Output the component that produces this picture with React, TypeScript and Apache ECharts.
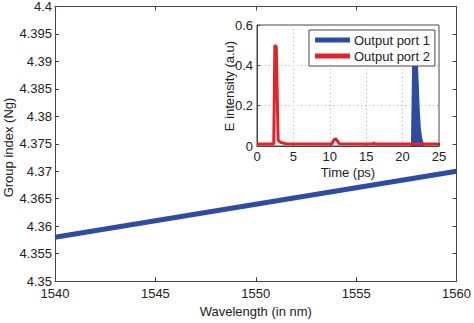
import React, { useEffect, useRef } from "react";
import * as echarts from "echarts";

const wavelength = [1540, 1560];
const groupIndex = [4.358, 4.37];

const port1Time = [21.35, 21.55, 21.7, 21.85, 22.0, 22.15, 22.3, 22.5, 22.8];
const port1Val = [0, 0.5, 0.52, 0.45, 0.32, 0.18, 0.09, 0.035, 0];

const port2Time = [0, 2.3, 2.45, 2.65, 2.9, 3.2, 4.0, 10.3, 10.55, 10.8, 11.05, 11.3, 15.9, 16.05, 16.2, 25];
const port2Val = [0.01, 0.01, 0.5, 0.49, 0.03, 0.018, 0.011, 0.01, 0.03, 0.036, 0.025, 0.011, 0.01, 0.015, 0.01, 0.01];

const mainYName = "Group index (Ng)";
const insetYName = "E intensity (a.u)";

const FONT = "Liberation Sans, Arial, Helvetica, sans-serif";
const TXT = "#222";
const AX = "#444";
const BLUE = "#2c4da0";
const RED = "#e42229";

export default function App() {
  const ref = useRef<HTMLDivElement>(null);
  useEffect(() => {
    if (!ref.current) return;
    const chart = echarts.init(ref.current, undefined, { renderer: "svg" });
    const mainLine = wavelength.map((w, i) => [w, groupIndex[i]]);
    const p1 = port1Time.map((t, i) => [t, port1Val[i]]);
    const p2 = port2Time.map((t, i) => [t, port2Val[i]]);
    const lbl = { color: TXT, fontSize: 13, fontFamily: FONT };
    const axLine = { show: true, lineStyle: { color: AX, width: 1 } };
    const plain = (v: number) => String(Math.round(v * 1000) / 1000);
    const vText = (text: string, x: number, y: number) => ({
      type: "text", x, y, rotation: Math.PI / 2, z: 30,
      style: { text, fill: TXT, fontSize: 13, fontFamily: FONT, align: "center", verticalAlign: "middle" },
    });
    chart.setOption({
      animation: false,
      backgroundColor: "#fff",
      textStyle: { fontFamily: FONT },
      grid: [
        { left: 55, top: 5, right: 15, bottom: 33, show: false },
        { left: 257, top: 25, right: 35, bottom: 177, show: true, backgroundColor: "#fff", borderColor: AX, borderWidth: 1, z: 5 },
      ],
      graphic: [vText(mainYName, 8, 147.5), vText(insetYName, 229, 86)],
      xAxis: [
        {
          gridIndex: 0, type: "value", min: 1540, max: 1560, interval: 5, position: "bottom",
          axisLine: axLine, axisTick: { show: true, inside: true, length: 4, lineStyle: { color: AX } },
          axisLabel: { ...lbl, margin: 6, formatter: plain }, splitLine: { show: false },
          name: "Wavelength (in nm)", nameLocation: "middle", nameGap: 21, nameTextStyle: lbl,
        },
        {
          gridIndex: 0, type: "value", min: 1540, max: 1560, interval: 5, position: "top",
          axisLine: axLine, axisTick: { show: true, inside: true, length: 4, lineStyle: { color: AX } },
          axisLabel: { show: false }, splitLine: { show: false },
        },
        {
          gridIndex: 1, type: "value", min: 0, max: 25, interval: 5,
          axisLine: axLine, axisTick: { show: true, inside: true, length: 3, lineStyle: { color: AX } },
          axisLabel: { ...lbl, margin: 4, formatter: plain },
          splitLine: { show: true, lineStyle: { color: "#b0b0b0", type: [1, 3], width: 1 } },
          name: "Time (ps)", nameLocation: "middle", nameGap: 20, nameTextStyle: lbl, z: 6,
        },
      ],
      yAxis: [
        {
          gridIndex: 0, type: "value", min: 4.35, max: 4.4, interval: 0.005, position: "left",
          axisLine: axLine, axisTick: { show: true, inside: true, length: 4, lineStyle: { color: AX } },
          axisLabel: { ...lbl, margin: 3, formatter: plain }, splitLine: { show: false },
        },
        {
          gridIndex: 0, type: "value", min: 4.35, max: 4.4, interval: 0.005, position: "right",
          axisLine: axLine, axisTick: { show: true, inside: true, length: 4, lineStyle: { color: AX } },
          axisLabel: { show: false }, splitLine: { show: false },
        },
        {
          gridIndex: 1, type: "value", min: 0, max: 0.6, interval: 0.2,
          axisLine: axLine, axisTick: { show: true, inside: true, length: 3, lineStyle: { color: AX } },
          axisLabel: { ...lbl, margin: 4, formatter: plain },
          splitLine: { show: true, lineStyle: { color: "#b0b0b0", type: [1, 3], width: 1 } },
          z: 6,
        },
      ],
      legend: {
        left: 309, top: 30, orient: "vertical",
        backgroundColor: "#fff", borderColor: AX, borderWidth: 1,
        padding: [3, 5, 3, 6], itemGap: 2, itemWidth: 35, itemHeight: 5,
        textStyle: { ...lbl, lineHeight: 14, padding: [0, 0, 0, -1] },
        data: [
          { name: "Output port 1", icon: "rect", itemStyle: { color: BLUE } },
          { name: "Output port 2", icon: "rect", itemStyle: { color: RED } },
        ],
        z: 20,
      },
      series: [
        {
          type: "line", xAxisIndex: 0, yAxisIndex: 0, data: mainLine, showSymbol: false,
          lineStyle: { color: BLUE, width: 5 }, itemStyle: { color: BLUE }, z: 2,
        },
        {
          name: "Output port 1", type: "line", xAxisIndex: 2, yAxisIndex: 2, data: p1, showSymbol: false,
          lineStyle: { color: BLUE, width: 3 }, itemStyle: { color: BLUE },
          areaStyle: { color: BLUE, opacity: 1 }, z: 7,
        },
        {
          name: "Output port 2", type: "line", xAxisIndex: 2, yAxisIndex: 2, data: p2, showSymbol: false,
          lineStyle: { color: RED, width: 3 }, itemStyle: { color: RED }, z: 8,
        },
      ],
    });
    return () => chart.dispose();
  }, []);
  return <div ref={ref} style={{ position: "fixed", left: 0, top: 0, width: 474, height: 323 }} />;
}
